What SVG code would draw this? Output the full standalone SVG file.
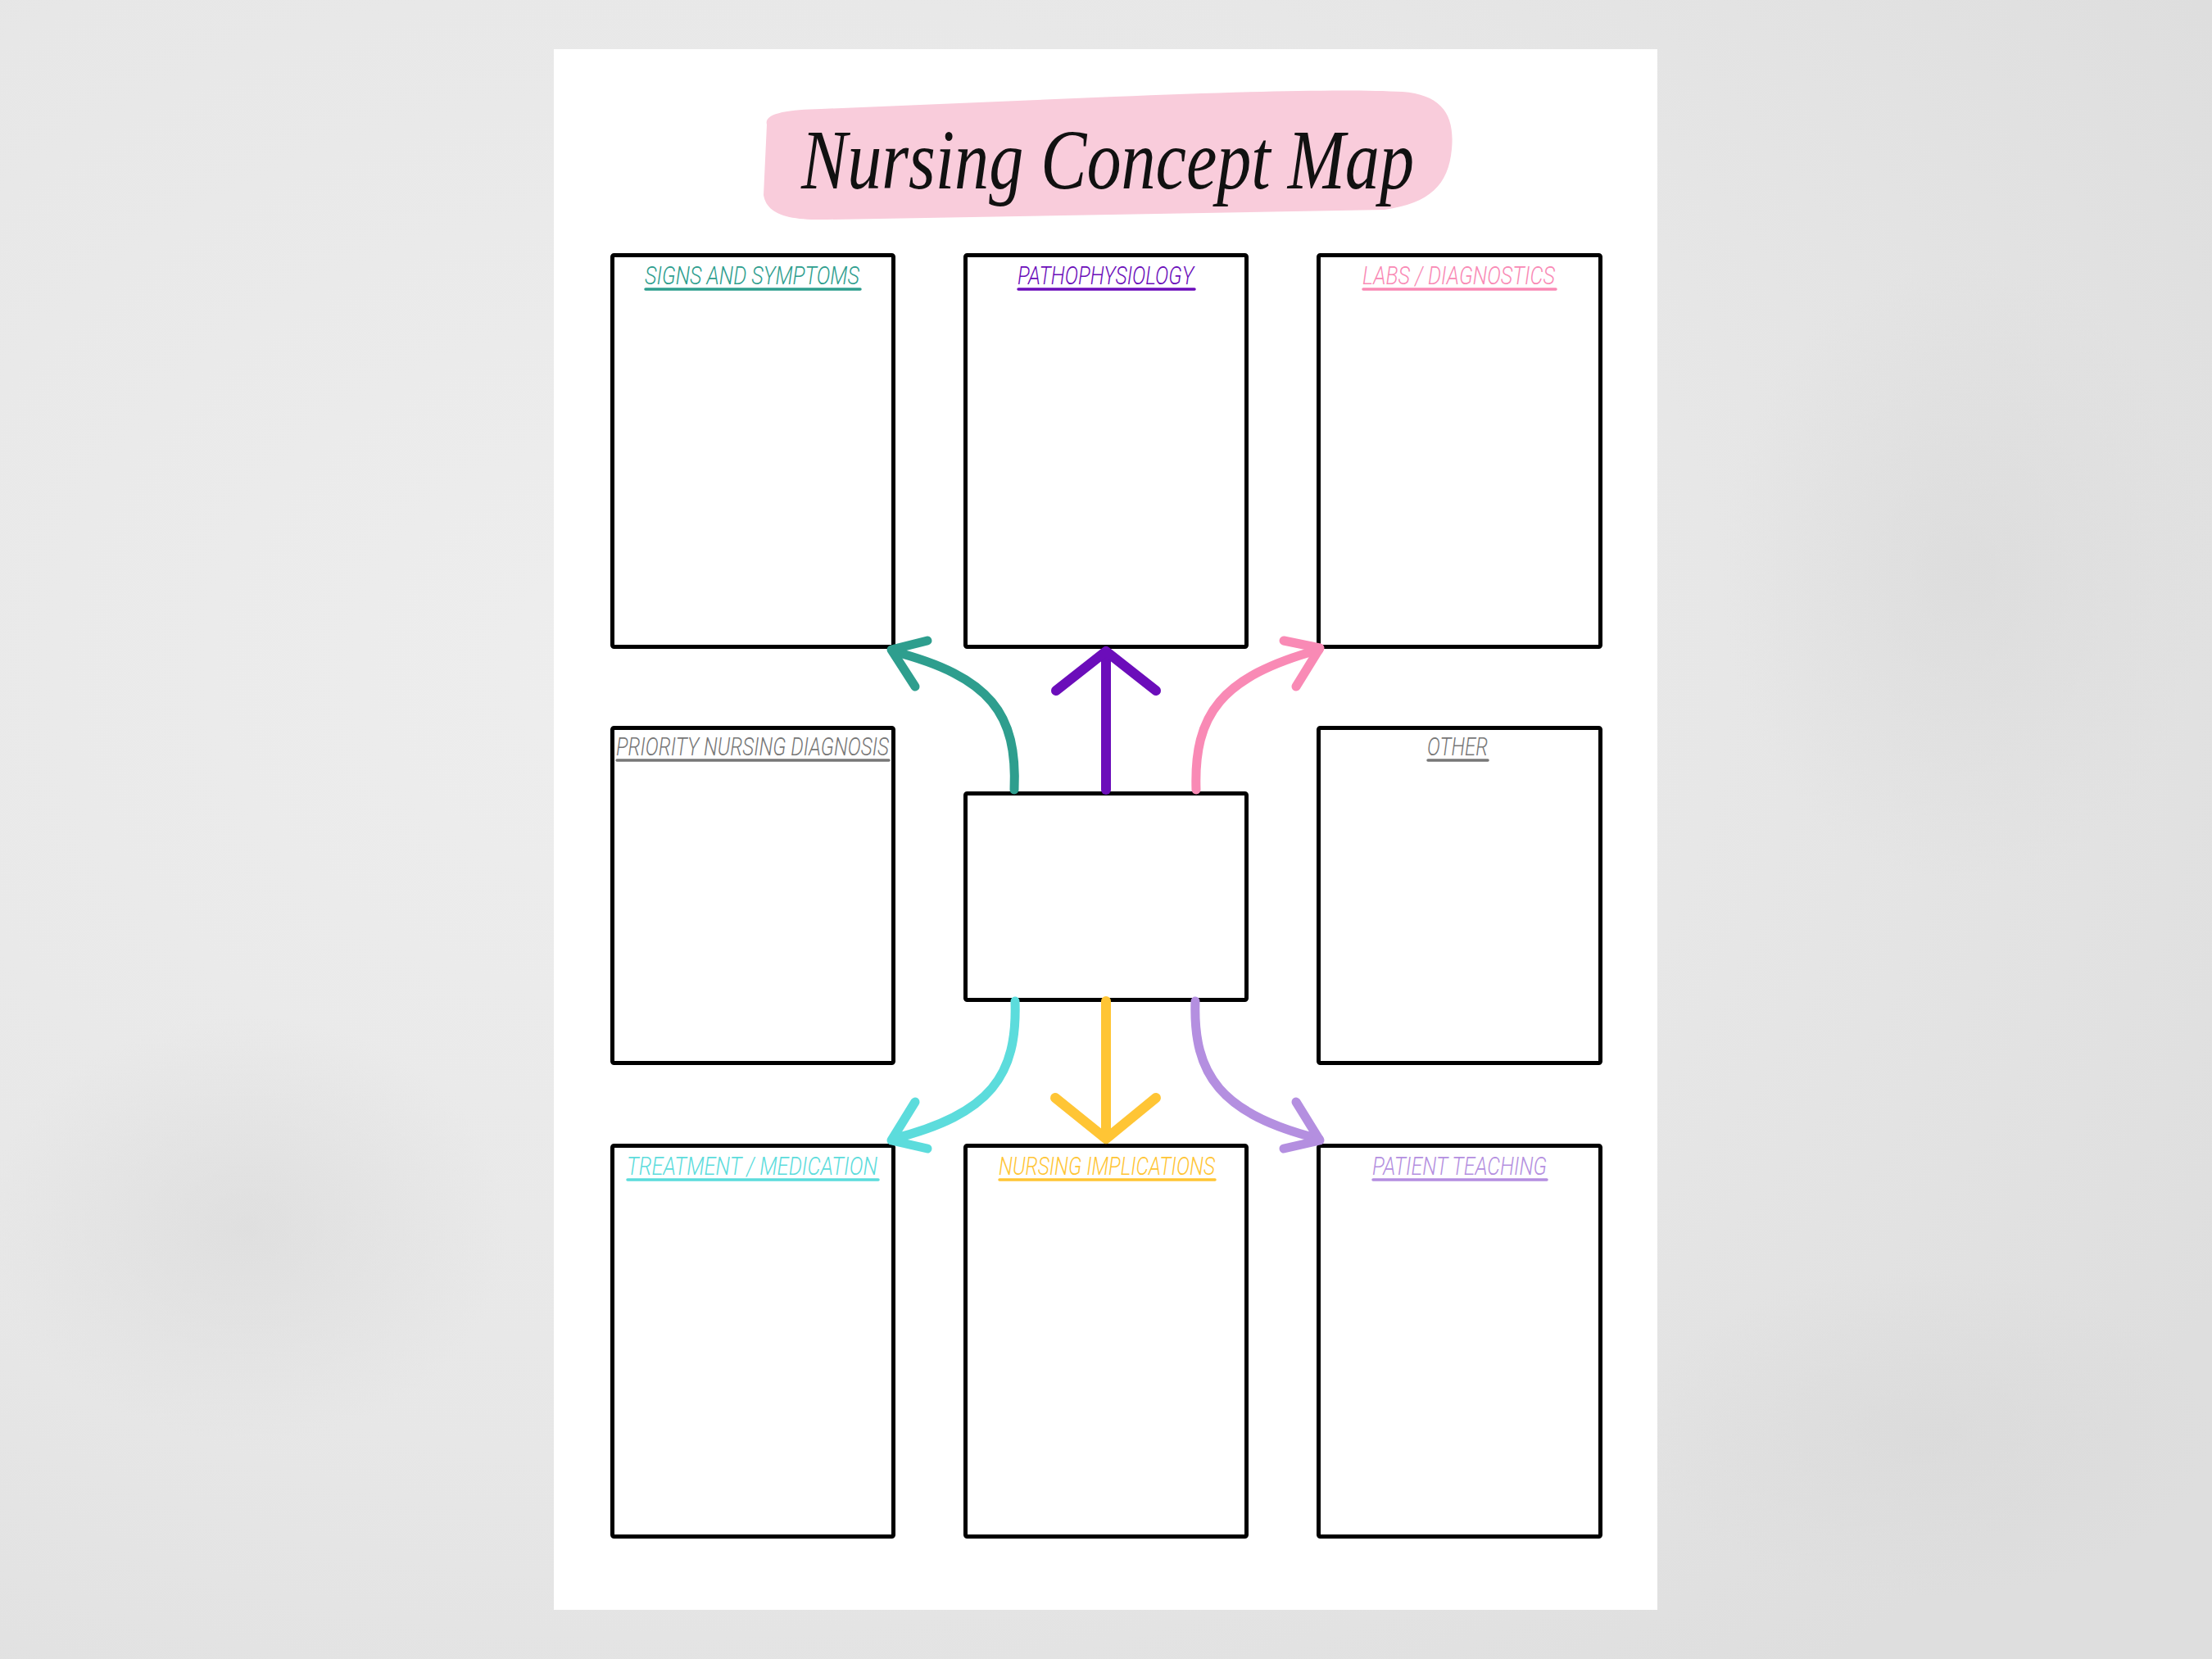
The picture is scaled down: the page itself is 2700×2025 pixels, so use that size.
<svg xmlns="http://www.w3.org/2000/svg" width="2700" height="2025" viewBox="0 0 2700 2025">
  <defs>
    <radialGradient id="bg1" cx="0.3" cy="0.4" r="0.8">
      <stop offset="0" stop-color="#eeeeee"/>
      <stop offset="0.6" stop-color="#e7e7e7"/>
      <stop offset="1" stop-color="#dedede"/>
    </radialGradient>
    <radialGradient id="blot" cx="0.5" cy="0.5" r="0.5">
      <stop offset="0" stop-color="#d8d8d8" stop-opacity="0.55"/>
      <stop offset="1" stop-color="#d8d8d8" stop-opacity="0"/>
    </radialGradient>
    <style>
      .box { fill: #ffffff; stroke: #000000; stroke-width: 5; stroke-linejoin: round; }
      .lbl { font-family: Roboto, "Liberation Sans", "DejaVu Sans", sans-serif; font-weight: 300; font-style: italic; font-size: 31px; }
      .ul { stroke-width: 3.5; stroke-linecap: round; }
      .arr { fill: none; stroke-linecap: round; stroke-linejoin: round; }
      .title { font-family: "Liberation Serif", "DejaVu Serif", serif; font-style: italic; font-size: 104px; fill: #111111; }
    </style>
  </defs>

  <!-- background -->
  <rect x="0" y="0" width="2700" height="2025" fill="url(#bg1)"/>
  <ellipse cx="300" cy="1500" rx="320" ry="260" fill="url(#blot)"/>
  <ellipse cx="2400" cy="700" rx="300" ry="380" fill="url(#blot)"/>
  <ellipse cx="2350" cy="1750" rx="350" ry="200" fill="url(#blot)"/>

  <!-- page -->
  <rect x="676" y="60" width="1347" height="1905" fill="#ffffff"/>

  <!-- title -->
  <g id="title">
    <path d="M936,152 C932,138 962,134 1002,133 L1360,118 C1510,112 1640,108 1712,112 C1760,116 1776,140 1772,182 C1768,226 1745,248 1690,256 L1010,268 C962,269 936,262 932,238 Z" fill="#F9CCDB"/>
    <text class="title" x="978" y="230" textLength="748" lengthAdjust="spacingAndGlyphs">Nursing Concept Map</text>
  </g>

  <!-- nodes -->
  <g id="signs">
    <rect class="box" x="747.5" y="311.5" width="343" height="478" rx="2"/>
    <text class="lbl" x="787" y="347" fill="#2E9E8E" textLength="262" lengthAdjust="spacingAndGlyphs">SIGNS AND SYMPTOMS</text>
    <line class="ul" x1="788" y1="353" x2="1050" y2="353" stroke="#2E9E8E"/>
  </g>
  <g id="patho">
    <rect class="box" x="1178.5" y="311.5" width="343" height="478" rx="2"/>
    <text class="lbl" x="1242" y="347" fill="#6B0DBA" textLength="215" lengthAdjust="spacingAndGlyphs">PATHOPHYSIOLOGY</text>
    <line class="ul" x1="1243" y1="353" x2="1458" y2="353" stroke="#6B0DBA"/>
  </g>
  <g id="labs">
    <rect class="box" x="1609.5" y="311.5" width="344" height="478" rx="2"/>
    <text class="lbl" x="1663" y="347" fill="#F98AB5" textLength="235" lengthAdjust="spacingAndGlyphs">LABS / DIAGNOSTICS</text>
    <line class="ul" x1="1664" y1="353" x2="1899" y2="353" stroke="#F98AB5"/>
  </g>
  <g id="priority">
    <rect class="box" x="747.5" y="888.5" width="343" height="409" rx="2"/>
    <text class="lbl" x="752" y="922" fill="#777777" textLength="333" lengthAdjust="spacingAndGlyphs">PRIORITY NURSING DIAGNOSIS</text>
    <line class="ul" x1="753" y1="928" x2="1085" y2="928" stroke="#777777"/>
  </g>
  <g id="center">
    <rect class="box" x="1178.5" y="968.5" width="343" height="252" rx="2"/>
  </g>
  <g id="other">
    <rect class="box" x="1609.5" y="888.5" width="344" height="409" rx="2"/>
    <text class="lbl" x="1742" y="922" fill="#777777" textLength="74" lengthAdjust="spacingAndGlyphs">OTHER</text>
    <line class="ul" x1="1743" y1="928" x2="1816" y2="928" stroke="#777777"/>
  </g>
  <g id="treatment">
    <rect class="box" x="747.5" y="1398.5" width="343" height="477" rx="2"/>
    <text class="lbl" x="765" y="1434" fill="#5CDCDC" textLength="306" lengthAdjust="spacingAndGlyphs">TREATMENT / MEDICATION</text>
    <line class="ul" x1="766" y1="1440" x2="1072" y2="1440" stroke="#5CDCDC"/>
  </g>
  <g id="implications">
    <rect class="box" x="1178.5" y="1398.5" width="343" height="477" rx="2"/>
    <text class="lbl" x="1219" y="1434" fill="#FFC535" textLength="264" lengthAdjust="spacingAndGlyphs">NURSING IMPLICATIONS</text>
    <line class="ul" x1="1220" y1="1440" x2="1483" y2="1440" stroke="#FFC535"/>
  </g>
  <g id="teaching">
    <rect class="box" x="1609.5" y="1398.5" width="344" height="477" rx="2"/>
    <text class="lbl" x="1675" y="1434" fill="#B48FE0" textLength="213" lengthAdjust="spacingAndGlyphs">PATIENT TEACHING</text>
    <line class="ul" x1="1676" y1="1440" x2="1888" y2="1440" stroke="#B48FE0"/>
  </g>

  <!-- connectors -->
  <g id="connectors">
    <g stroke="#2E9E8E" stroke-width="11" class="arr">
      <path d="M1238,964 C1242,872 1210,826 1090,795"/>
      <path d="M1132,782 L1088,793 L1117,838"/>
    </g>
    <g stroke="#6B0DBA" stroke-width="12" class="arr">
      <path d="M1350,964 V797"/>
      <path d="M1289,843 L1350,795 L1411,843"/>
    </g>
    <g stroke="#F98AB5" stroke-width="11" class="arr">
      <path d="M1460,964 C1457,872 1490,826 1610,793"/>
      <path d="M1567,782 L1611,791 L1582,838"/>
    </g>
    <g stroke="#5CDCDC" stroke-width="11" class="arr">
      <path d="M1239,1222 C1242,1312 1210,1360 1090,1390"/>
      <path d="M1117,1345 L1088,1392 L1132,1402"/>
    </g>
    <g stroke="#FFC535" stroke-width="12" class="arr">
      <path d="M1350,1222 V1388"/>
      <path d="M1288,1340 L1350,1390 L1411,1340"/>
    </g>
    <g stroke="#B48FE0" stroke-width="11" class="arr">
      <path d="M1459,1222 C1456,1312 1490,1360 1610,1390"/>
      <path d="M1582,1345 L1611,1392 L1567,1402"/>
    </g>
  </g>
</svg>
